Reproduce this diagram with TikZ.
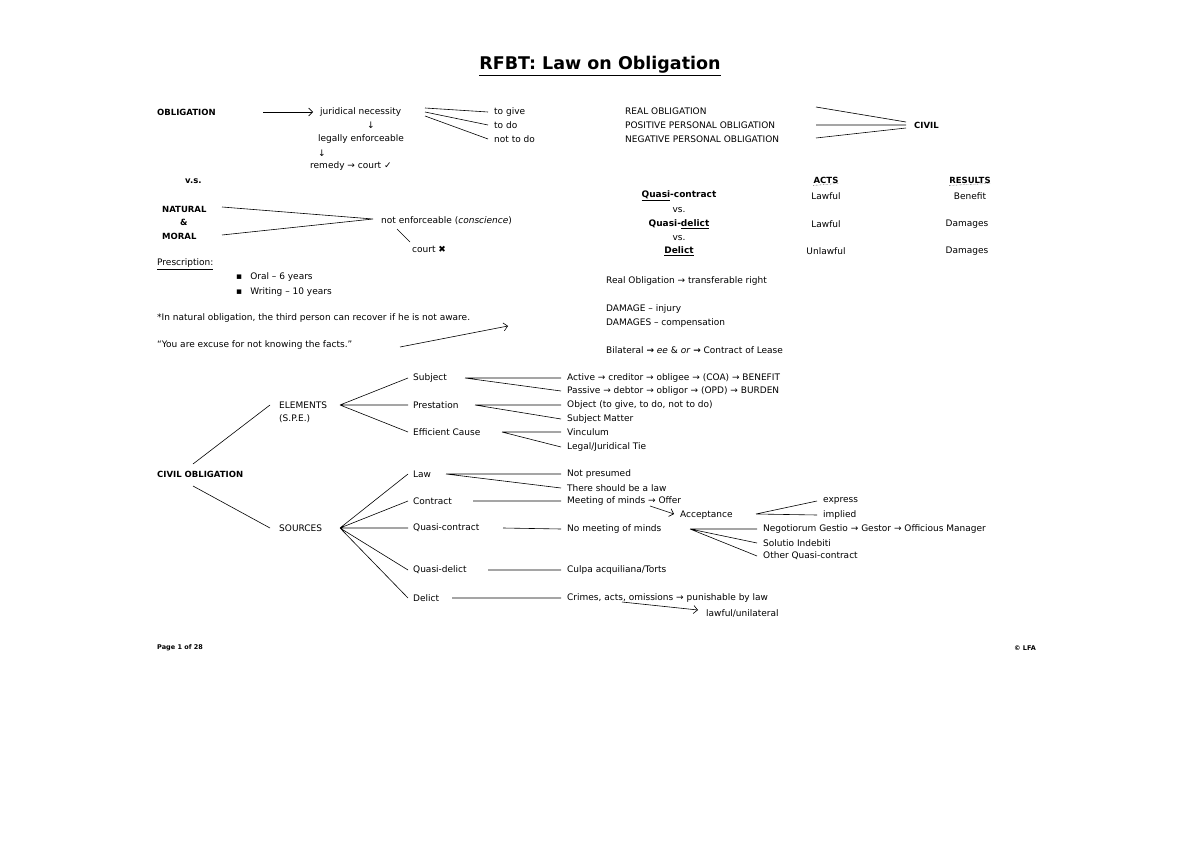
\documentclass[tikz,border=0pt]{standalone}
\usepackage{fontspec}
\setmainfont{DejaVu Sans}
\usetikzlibrary{arrows.meta}
\begin{document}
\begin{tikzpicture}[x=1pt,y=-1pt,
  t/.style={anchor=west,inner sep=0pt,font=\fontsize{9}{11}\selectfont},
  tb/.style={t,font=\fontsize{8.5}{11}\selectfont\bfseries},
  tc/.style={t,anchor=center},
  ln/.style={draw=black,line width=0.6pt},
  ar/.style={ln,-{Straight Barb[length=4pt]}}]
\useasboundingbox (0,0) rectangle (1200,848);
\node[anchor=center,font=\fontsize{17.5}{21}\selectfont\bfseries] (title) at (600,66) {\underline{RFBT: Law on Obligation}};
% top-left
\node[tb] (obl) at (157,112) {OBLIGATION};
\coordinate (oa) at (263,112); \coordinate (ob) at (313,112);
\draw[ar] (oa) -- (ob);
\node[t] (jn) at (320,112) {juridical necessity};
\node[t] (tg) at (494,112) {to give};
\node[t] (td) at (494,125) {to do};
\node[t] (ntd) at (494,139) {not to do};
\coordinate (j1) at (425,108); \coordinate (j2) at (425,112); \coordinate (j3) at (425,116);
\coordinate (g1) at (488,112); \coordinate (g2) at (488,125); \coordinate (g3) at (488,139);
\draw[ln] (j1)--(g1) (j2)--(g2) (j3)--(g3);
\node[tc] (d1) at (371,125) {↓};
\node[t] (le) at (318,139) {legally enforceable};
\node[tc] (d2) at (322,153) {↓};
\node[t] (rem) at (310,166) {remedy → court ✓};
\node[tb] (vs) at (185,181) {v.s.};
\node[tb] (nat) at (162,209) {NATURAL};
\node[tb] (amp) at (180,222) {\&};
\node[tb] (mor) at (162,236) {MORAL};
\node[t] (ne) at (381,221) {not enforceable (\textit{conscience})};
\coordinate (n1) at (222,207); \coordinate (n2) at (222,235); \coordinate (n3) at (373,219);
\draw[ln] (n1)--(n3) (n2)--(n3);
\node[t] (court) at (412,249) {court ✖};
\coordinate (c1) at (397,229); \coordinate (c2) at (410,242);
\draw[ln] (c1)--(c2);
\node[t] (pre) at (157,264) {\underline{Prescription:}};
\node[t] (b1) at (236,277) {▪\hspace{8pt}Oral – 6 years};
\node[t] (b2) at (236,292) {▪\hspace{8pt}Writing – 10 years};
\node[t] (nat2) at (157,318) {*In natural obligation, the third person can recover if he is not aware.};
\node[t] (exc) at (157,345) {“You are excuse for not knowing the facts.”};
\coordinate (e1) at (400,347); \coordinate (e2) at (508,326);
\draw[ar] (e1)--(e2);
% top-right
\node[t] (ro) at (625,111) {REAL OBLIGATION};
\node[t] (ppo) at (625,125) {POSITIVE PERSONAL OBLIGATION};
\node[t] (npo) at (625,139) {NEGATIVE PERSONAL OBLIGATION};
\node[tb] (civ) at (914,125) {CIVIL};
\coordinate (r1) at (816,107); \coordinate (r2) at (816,125); \coordinate (r3) at (816,138);
\coordinate (k1) at (906,122); \coordinate (k2) at (906,125); \coordinate (k3) at (906,128);
\draw[ln] (r1)--(k1) (r2)--(k2) (r3)--(k3);
\node[tc,font=\fontsize{8.5}{11}\selectfont\bfseries] (acts) at (826,180) {ACTS};
\node[tc,font=\fontsize{8.5}{11}\selectfont\bfseries] (res) at (970,180) {RESULTS};
\draw[densely dotted] (acts.south west)++(0,2) -- (acts.south east);
\draw[densely dotted] (res.south west)++(0,2) -- (res.south east);
\node[tc,font=\fontsize{9}{11}\selectfont\bfseries] (qc) at (679,196) {\underline{Quasi}-contract};
\node[tc] (v1) at (679,210) {vs.};
\node[tc,font=\fontsize{9}{11}\selectfont\bfseries] (qd) at (679,224) {Quasi-\underline{delict}};
\node[tc] (v2) at (679,238) {vs.};
\node[tc,font=\fontsize{9}{11}\selectfont\bfseries] (de) at (679,251) {\underline{Delict}};
\node[tc] (l1) at (826,196) {Lawful};
\node[tc] (l2) at (826,224) {Lawful};
\node[tc] (l3) at (826,251) {Unlawful};
\node[tc] (r4) at (970,196) {Benefit};
\node[tc] (r5) at (967,224) {Damages};
\node[tc] (r6) at (967,251) {Damages};
\node[t] (rot) at (606,281) {Real Obligation → transferable right};
\node[t] (dm1) at (606,309) {DAMAGE – injury};
\node[t] (dm2) at (606,323) {DAMAGES – compensation};
\node[t] (bil) at (606,350) {Bilateral \textbf{→} \textit{ee} \& \textit{or} \textbf{→} Contract of Lease};
% bottom tree
\node[tb] (co) at (157,474) {CIVIL OBLIGATION};
\node[t] (el) at (279,405) {ELEMENTS};
\node[t] (spe) at (279,419) {(S.P.E.)};
\node[t] (so) at (279,528) {SOURCES};
\coordinate (co1) at (193,464); \coordinate (co2) at (193,486);
\coordinate (el0) at (270,405); \coordinate (so0) at (270,528);
\draw[ln] (co1)--(el0) (co2)--(so0);
\node[t] (sub) at (413,378) {Subject};
\node[t] (pres) at (413,405) {Prestation};
\node[t] (eff) at (413,432) {Efficient Cause};
\coordinate (elr) at (340,405);
\draw[ln] (elr)--([xshift=-5pt]sub.west) (elr)--([xshift=-5pt]pres.west) (elr)--([xshift=-5pt]eff.west);
\node[t] (act) at (567,378) {Active → creditor → obligee → (COA) → BENEFIT};
\node[t] (pas) at (567,391) {Passive → debtor → obligor → (OPD) → BURDEN};
\node[t] (obj) at (567,405) {Object (to give, to do, not to do)};
\node[t] (sm) at (567,419) {Subject Matter};
\node[t] (vin) at (567,432) {Vinculum};
\node[t] (lt) at (567,447) {Legal/Juridical Tie};
\coordinate (s0) at (465,378); \coordinate (p0) at (475,405); \coordinate (f0) at (502,432);
\draw[ln] (s0)--([xshift=-6pt]act.west) (s0)--([xshift=-6pt]pas.west)
  (p0)--([xshift=-6pt]obj.west) (p0)--([xshift=-6pt]sm.west)
  (f0)--([xshift=-6pt]vin.west) (f0)--([xshift=-6pt]lt.west);
\node[t] (law) at (413,474) {Law};
\node[t] (con) at (413,501) {Contract};
\node[t] (qcs) at (413,528) {Quasi-contract};
\node[t] (qds) at (413,570) {Quasi-delict};
\node[t] (dls) at (413,598) {Delict};
\coordinate (sor) at (340,528);
\draw[ln] (sor)--([xshift=-5pt]law.west) (sor)--([xshift=-5pt]con.west) (sor)--([xshift=-5pt]qcs.west) (sor)--([xshift=-5pt]qds.west) (sor)--([xshift=-5pt]dls.west);
\node[t] (np) at (567,474) {Not presumed};
\node[t] (tsl) at (567,488) {There should be a law};
\node[t] (mm) at (567,501) {Meeting of minds → Offer};
\node[t] (acc) at (680,515) {Acceptance};
\node[t] (exp) at (823,501) {express};
\node[t] (imp) at (823,515) {implied};
\node[t] (nmm) at (567,529) {No meeting of minds};
\node[t] (neg) at (763,529) {Negotiorum Gestio → Gestor → Officious Manager};
\node[t] (sol) at (763,543) {Solutio Indebiti};
\node[t] (oqc) at (763,556) {Other Quasi-contract};
\node[t] (cul) at (567,570) {Culpa acquiliana/Torts};
\node[t] (cri) at (567,598) {Crimes, acts, omissions → punishable by law};
\node[t] (lu) at (706,613) {lawful/unilateral};
\coordinate (la0) at (446,474); \coordinate (ct0) at (473,501); \coordinate (qc0) at (503,528);
\coordinate (qd0) at (488,570); \coordinate (dl0) at (452,598);
\draw[ln] (la0)--([xshift=-6pt]np.west) (la0)--([xshift=-6pt]tsl.west)
  (ct0)--([xshift=-6pt]mm.west) (qc0)--([xshift=-6pt]nmm.west)
  (qd0)--([xshift=-6pt]cul.west) (dl0)--([xshift=-6pt]cri.west);
\coordinate (of1) at (650,506); \coordinate (of2) at (674,514);
\draw[ar] (of1)--(of2);
\coordinate (ac0) at (756,514);
\draw[ln] (ac0)--([xshift=-6pt]exp.west) (ac0)--([xshift=-6pt]imp.west);
\coordinate (nm0) at (690,529);
\draw[ln] (nm0)--([xshift=-6pt]neg.west) (nm0)--([xshift=-6pt]sol.west) (nm0)--([xshift=-6pt]oqc.west);
\coordinate (cr1) at (622,602); \coordinate (cr2) at (698,610);
\draw[ar] (cr1)--(cr2);
% footer
\node[t,font=\fontsize{6.5}{8}\selectfont\bfseries] (pg) at (157,648) {Page 1 of 28};
\node[t,anchor=east,font=\fontsize{6.5}{8}\selectfont\bfseries] (lfa) at (1036,648) {© LFA};
\end{tikzpicture}
\end{document}
